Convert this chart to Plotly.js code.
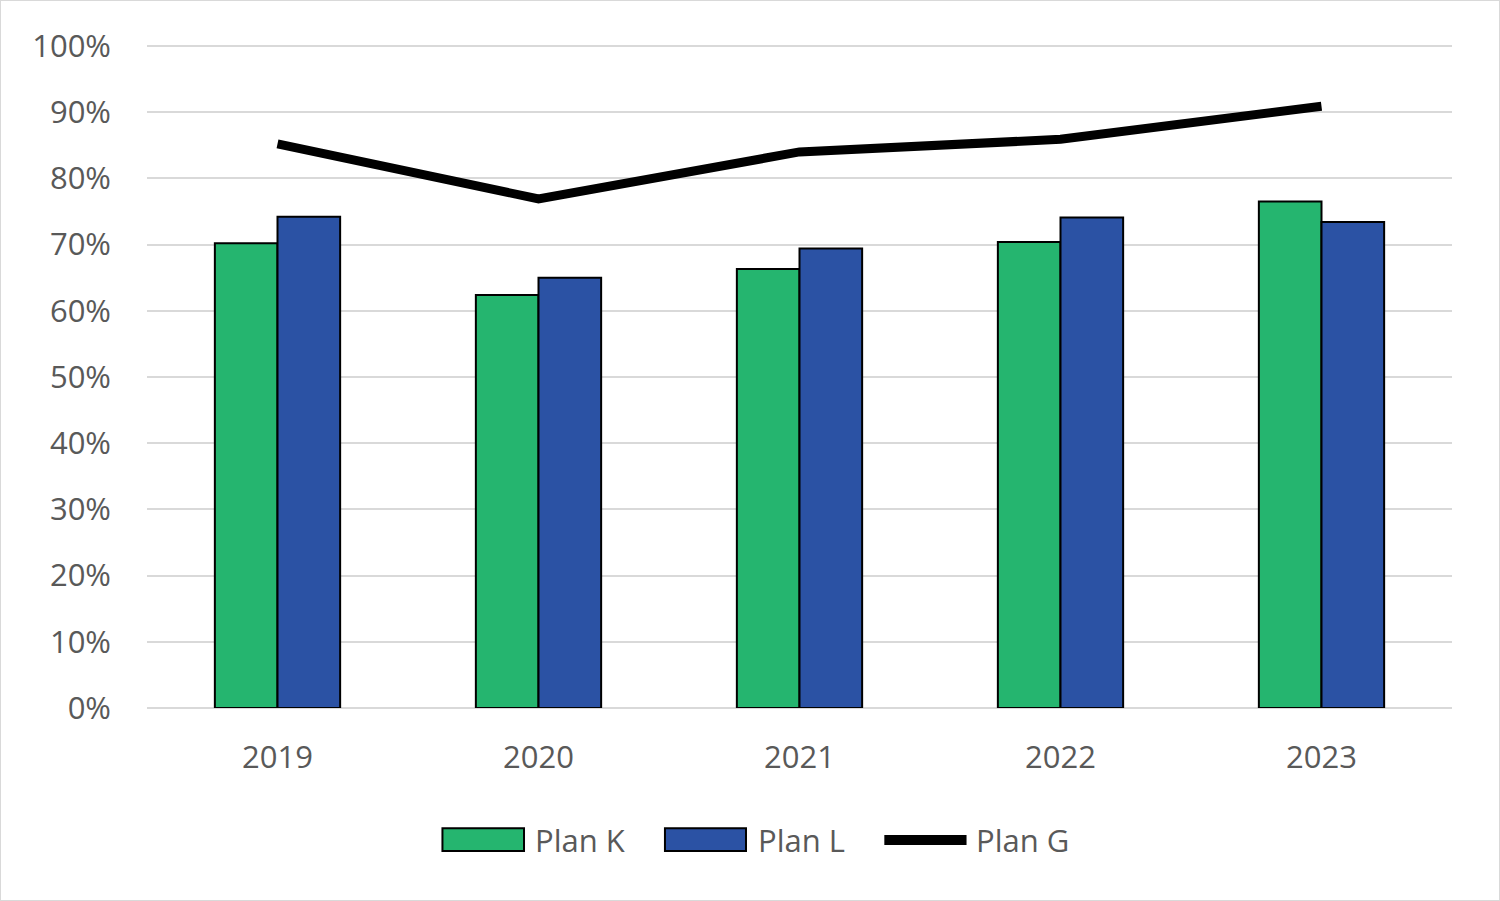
<!DOCTYPE html>
<html>
<head>
<meta charset="utf-8">
<script src="https://cdn.plot.ly/plotly-3.0.1.min.js"></script>
<style>
  body { margin: 0; padding: 0; background: #fff; }
  #chart { width: 1498px; height: 899px; border: 1px solid #d9d9d9; }
</style>
</head>
<body>
<div id="chart"></div>
<script>
// values (fractions of 1)
var years = ['2019', '2020', '2021', '2022', '2023'];
var planK = [0.702, 0.624, 0.663, 0.704, 0.765];
var planL = [0.742, 0.650, 0.694, 0.741, 0.734];
var planG = [0.852, 0.769, 0.840, 0.859, 0.909];
var seriesNames = ['Plan K', 'Plan L', 'Plan G'];
var seriesColors = ['#25b56f', '#2b52a4', '#000000'];

var axisFont = {family: 'Open Sans, sans-serif', size: 31, color: '#595959'};

var traceK = {
  x: years,
  y: planK,
  name: seriesNames[0],
  type: 'bar',
  marker: {color: seriesColors[0], line: {color: '#000', width: 2}}
};

var traceL = {
  x: years,
  y: planL,
  name: seriesNames[1],
  type: 'bar',
  marker: {color: seriesColors[1], line: {color: '#000', width: 2}}
};

var traceG = {
  x: years,
  y: planG,
  name: seriesNames[2],
  type: 'scatter',
  mode: 'lines',
  line: {color: seriesColors[2], width: 9}
};

// the legend is drawn by hand so the keys get the wide Excel-like look
var legY = -0.1988;
var shapes = [
  {type: 'rect', xref: 'paper', yref: 'paper', x0: 0.2264, x1: 0.2889, y0: -0.2154, y1: -0.1812,
   fillcolor: seriesColors[0], line: {color: '#000', width: 2}},
  {type: 'rect', xref: 'paper', yref: 'paper', x0: 0.3969, x1: 0.4590, y0: -0.2154, y1: -0.1812,
   fillcolor: seriesColors[1], line: {color: '#000', width: 2}},
  {type: 'line', xref: 'paper', yref: 'paper', x0: 0.5650, x1: 0.6280, y0: legY, y1: legY,
   line: {color: seriesColors[2], width: 10}}
];
var legX = [0.2962, 0.4677, 0.6345];
var annotations = seriesNames.map(function(n, i){
  return {text: n, xref: 'paper', yref: 'paper', x: legX[i], y: legY,
          xanchor: 'left', yanchor: 'middle', showarrow: false, font: axisFont, borderpad: 0};
});

var layout = {
  width: 1498,
  height: 899,
  margin: {l: 146, r: 47, t: 43, b: 192},
  paper_bgcolor: '#fff',
  plot_bgcolor: '#fff',
  barmode: 'group',
  bargap: 0.52,
  bargroupgap: 0,
  font: axisFont,
  showlegend: false,
  shapes: shapes,
  annotations: annotations,
  xaxis: {
    showgrid: false,
    showline: false,
    zeroline: false,
    ticks: '',
    tickfont: axisFont,
    ticklabelstandoff: 28
  },
  yaxis: {
    range: [0, 1.003],
    dtick: 0.1,
    tickformat: '.0%',
    gridcolor: '#d9d9d9',
    gridwidth: 2,
    zeroline: true,
    zerolinecolor: '#d9d9d9',
    zerolinewidth: 2,
    showline: false,
    ticks: '',
    tickfont: axisFont,
    ticklabelstandoff: 35
  }
};

Plotly.newPlot('chart', [traceK, traceL, traceG], layout, {displayModeBar: false});
</script>
</body>
</html>
